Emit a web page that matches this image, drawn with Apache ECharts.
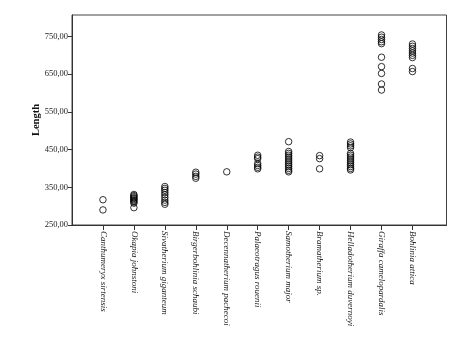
<!DOCTYPE html>
<html>
<head>
<meta charset="utf-8">
<script src="https://cdn.jsdelivr.net/npm/echarts@6/dist/echarts.min.js"></script>
<style>
  html, body { margin: 0; padding: 0; background: #fff; }
  #chart { width: 474px; height: 340px; }
</style>
</head>
<body>
<div id="chart"></div>
<script>
// Species (x categories)
const species = [
  'Canthumeryx sirtensis',
  'Okapia johnstoni',
  'Sivatherium giganteum',
  'Birgerbohlinia schaubi',
  'Decennatherium pachecoi',
  'Palaeotragus rouenii',
  'Samotherium major',
  'Bramatherium sp.',
  'Helladotherium duvernoyi',
  'Giraffa camelopardalis',
  'Bohlinia attica'
];

// Length measurements per species
const canthumeryx = [317, 290];
const okapia = [331, 328, 325, 322, 320, 317, 314, 311, 308, 296];
const sivatherium = [352, 347, 342, 336, 330, 323, 316, 310, 305];
const birgerbohlinia = [390, 385, 379, 374];
const decennatherium = [391];
const palaeotragus = [435, 430, 426, 413, 408, 403, 399];
const samotherium = [471, 445, 440, 435, 430, 425, 420, 415, 410, 405, 400, 395, 391];
const bramatherium = [434, 426, 399];
const helladotherium = [470, 465, 460, 455, 440, 435, 430, 425, 420, 415, 410, 405, 400, 396];
const giraffa = [754, 748, 742, 736, 731, 695, 670, 652, 624, 608];
const bohlinia = [730, 724, 718, 712, 706, 700, 694, 665, 657];

// Y tick labels
const yTicks = [250, 350, 450, 550, 650, 750];

const groups = [canthumeryx, okapia, sivatherium, birgerbohlinia, decennatherium,
  palaeotragus, samotherium, bramatherium, helladotherium, giraffa, bohlinia];

const points = [];
groups.forEach((vals, i) => vals.forEach(v => points.push([i + 1, v])));
const xPositions = species.map((_, i) => i + 1);

const chart = echarts.init(document.getElementById('chart'));
chart.setOption({
  animation: false,
  backgroundColor: '#fff',
  grid: {
    left: 72, top: 15, right: 27.5, bottom: 115,
    show: true, borderColor: '#444', borderWidth: 1
  },
  xAxis: {
    type: 'value',
    min: 0, max: 12.1,
    splitLine: { show: false },
    axisLine: { show: true, lineStyle: { color: '#333', width: 1 } },
    axisTick: { show: true, length: 5, customValues: xPositions, lineStyle: { color: '#333' } },
    axisLabel: {
      customValues: xPositions,
      rotate: -90,
      margin: 6,
      fontFamily: 'Liberation Serif',
      fontStyle: 'italic',
      fontSize: 9,
      color: '#222',
      formatter: v => species[Math.round(v) - 1] || ''
    }
  },
  yAxis: {
    type: 'value',
    min: 250, max: 807,
    name: 'Length',
    nameLocation: 'middle',
    nameGap: 30,
    nameMoveOverlap: false,
    nameTextStyle: { fontFamily: 'Liberation Serif', fontWeight: 'bold', fontSize: 10.5, color: '#111' },
    splitLine: { show: false },
    axisLine: { show: true, lineStyle: { color: '#333', width: 1 } },
    axisTick: { show: true, length: 4, customValues: yTicks, lineStyle: { color: '#333' } },
    axisLabel: {
      customValues: yTicks,
      margin: 4,
      fontFamily: 'Liberation Serif',
      fontSize: 8.5,
      color: '#222',
      formatter: v => v.toFixed(2).replace('.', ',')
    }
  },
  series: [{
    type: 'scatter',
    symbol: 'circle',
    symbolSize: 6.5,
    itemStyle: { color: 'rgba(255,255,255,0)', borderColor: '#000', borderWidth: 1 },
    data: points
  }]
});
</script>
</body>
</html>
